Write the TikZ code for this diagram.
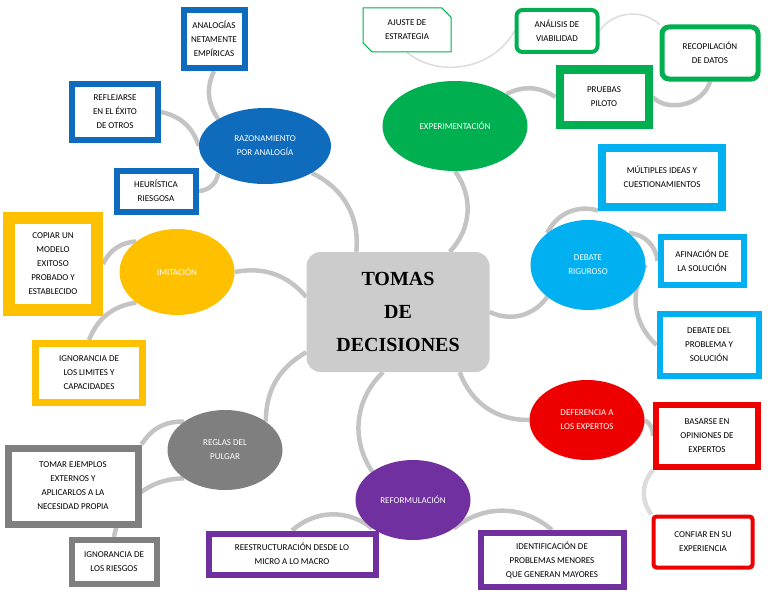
\documentclass[tikz,border=0pt]{standalone}
\usepackage{fontspec}
\setmainfont{Carlito}
\newfontfamily\serifb{Liberation Serif}
\usetikzlibrary{shapes.geometric,shapes.misc,backgrounds}
\definecolor{cblue}{HTML}{0F6CBD}
\definecolor{cyel}{HTML}{FFC000}
\definecolor{cgray}{HTML}{7F7F7F}
\definecolor{cpur}{HTML}{7030A0}
\definecolor{cred}{HTML}{EE0000}
\definecolor{clb}{HTML}{00B0F0}
\definecolor{cgr}{HTML}{00B050}
\definecolor{link}{HTML}{C4C4C4}
\begin{document}
\begin{tikzpicture}[x=1pt,y=-1pt,
  txt/.style={font=\fontsize{9}{14}\selectfont,align=center},
  ell/.style={ellipse,draw=none,text=white,txt,inner sep=0},
  bx/.style={draw,fill=white,txt,inner sep=0},
  lk/.style={draw=link,line width=4.5pt},
  lkt/.style={draw=link!60,line width=1.5pt}]
\useasboundingbox (0,0) rectangle (768,594);
\node[fill=black!20,rounded corners=14pt,minimum width=183,minimum height=120,align=center,
  font=\serifb\bfseries\fontsize{20}{33}\selectfont] (c) at (398,312) {TOMAS\\DE\\DECISIONES};
% ellipses
\node[ell,fill=cblue,minimum width=132,minimum height=76] (raz) at (265,146) {RAZONAMIENTO\\POR ANALOGÍA};
\node[ell,fill=cyel,minimum width=115,minimum height=86] (imi) at (177,272) {IMITACIÓN};
\node[ell,fill=cgray,minimum width=115,minimum height=80] (reg) at (225,450) {REGLAS DEL\\PULGAR};
\node[ell,fill=cpur,minimum width=115,minimum height=80] (ref) at (413,500) {REFORMULACIÓN};
\node[ell,fill=cred,minimum width=115,minimum height=80] (def) at (587,420) {DEFERENCIA A\\LOS EXPERTOS};
\node[ell,fill=clb,minimum width=115,minimum height=90] (deb) at (588,265) {DEBATE\\RIGUROSO};
\node[ell,fill=cgr,minimum width=145,minimum height=90] (exp) at (455,126) {EXPERIMENTACIÓN};
% boxes
\node[bx,draw=cblue,line width=6,minimum width=61,minimum height=58] (ana) at (214,39) {ANALOGÍAS\\NETAMENTE\\EMPÍRICAS};
\node[bx,draw=cblue,line width=6,minimum width=86,minimum height=56] (rfl) at (115,112) {REFLEJARSE\\EN EL ÉXITO\\DE OTROS};
\node[bx,draw=cblue,line width=6,minimum width=79,minimum height=41] (heu) at (156,191) {HEURÍSTICA\\RIESGOSA};
\node[bx,draw=cyel,line width=12,minimum width=88,minimum height=92] (cop) at (53,264) {COPIAR UN\\MODELO\\EXITOSO\\PROBADO Y\\ESTABLECIDO};
\node[bx,draw=cyel,line width=7,minimum width=107,minimum height=59] (igl) at (89,373) {IGNORANCIA DE\\LOS LIMITES Y\\CAPACIDADES};
\node[bx,draw=cgray,line width=7,minimum width=130,minimum height=76] (tom) at (73,486) {TOMAR EJEMPLOS\\EXTERNOS Y\\APLICARLOS A LA\\NECESIDAD PROPIA};
\node[bx,draw=cgray,line width=6,minimum width=85,minimum height=44] (igr) at (114,562) {IGNORANCIA DE\\LOS RIESGOS};
\node[bx,draw=cpur,line width=6,minimum width=167,minimum height=41] (res) at (292,554) {REESTRUCTURACIÓN DESDE LO\\MICRO A LO MACRO};
\node[bx,draw=cpur,line width=6,minimum width=143,minimum height=54] (ide) at (552,560) {IDENTIFICACIÓN DE\\PROBLEMAS MENORES\\QUE GENERAN MAYORES};
\node[bx,draw=cred,line width=4,rounded corners=3,minimum width=99,minimum height=51] (con) at (703,542) {CONFIAR EN SU\\EXPERIENCIA};
\node[bx,draw=cred,line width=6,minimum width=102,minimum height=62] (bas) at (707,436) {BASARSE EN\\OPINIONES DE\\EXPERTOS};
\node[bx,draw=clb,line width=6,minimum width=99,minimum height=62] (dpr) at (709,345) {DEBATE DEL\\PROBLEMA Y\\SOLUCIÓN};
\node[bx,draw=clb,line width=6,minimum width=83,minimum height=48] (afi) at (702,261) {AFINACIÓN DE\\LA SOLUCIÓN};
\node[bx,draw=clb,line width=8,minimum width=120,minimum height=59] (mul) at (662,177) {MÚLTIPLES IDEAS Y\\CUESTIONAMIENTOS};
\node[bx,draw=cgr,line width=5,rounded corners=7,minimum width=96,minimum height=52] (rec) at (710,53) {RECOPILACIÓN\\DE DATOS};
\node[bx,draw=cgr,line width=8,minimum width=89,minimum height=55] (pru) at (604,97) {PRUEBAS\\PILOTO};
\node[bx,draw=cgr,line width=4,rounded corners=6,minimum width=81,minimum height=42] (anv) at (557,31) {ANÁLISIS DE\\VIABILIDAD};
\node[bx,draw=cgr,line width=1,chamfered rectangle,chamfered rectangle corners={north east,south west},chamfered rectangle xsep=6pt,minimum width=88,minimum height=44] (aju) at (407,30) {AJUSTE DE\\ESTRATEGIA};
\begin{scope}[on background layer]
\draw[lk] (c.north west)++(50,0) to[bend right=35] (raz.south east);
\draw[lk] (c.north east)++(-40,0) to[bend right=40] (exp.south);
\draw[lk] (c.east) to[bend right=40] (deb.south west);
\draw[lk] (c.south east)++(-30,0) to[bend right=35] (def.west);
\draw[lk] (c.south)++(-15,0) to[bend right=40] (ref.north west);
\draw[lk] (c.south west)++(0,-20) to[bend right=30] (reg.north east);
\draw[lk] (c.west)++(0,-15) to[bend right=30] (imi.east);
\draw[lk] (raz.north west) to[bend left=30] (ana.south);
\draw[lk] (raz.west) to[bend right=30] (rfl.east);
\draw[lk] (raz.south west) to[bend left=40] (heu.east);
\draw[lk] (imi.north west) to[bend right=30] (cop.east);
\draw[lk] (imi.south west) to[bend right=30] (igl.north);
\draw[lk] (reg.north west) to[bend right=30] (tom.north east);
\draw[lk] (reg.south west) to[bend right=40] (igr.north);
\draw[lk] (ref.south west) to[bend right=40] (res.north);
\draw[lk] (ref.south east) to[bend left=40] (ide.north);
\draw[lk] (def.east) to[bend left=30] (bas.west);
\draw[lk, draw=link!60] (bas.south west) to[bend right=40] (con.north west);
\draw[lk] (deb.north west) to[bend left=40] (mul.south west);
\draw[lk] (deb.north east) to[bend left=40] (afi.west);
\draw[lk] (deb.east) to[bend right=40] (dpr.west);
\draw[lk] (exp.north east) to[bend left=30] (pru.west);
\draw[lk] (pru.east) to[bend right=60] (rec.south);
\draw[lkt] (aju.south) to[bend right=50] (anv.west);
\draw[lkt] (anv.east) to[bend left=50] (rec.north west);
\end{scope}
\end{tikzpicture}
\end{document}
